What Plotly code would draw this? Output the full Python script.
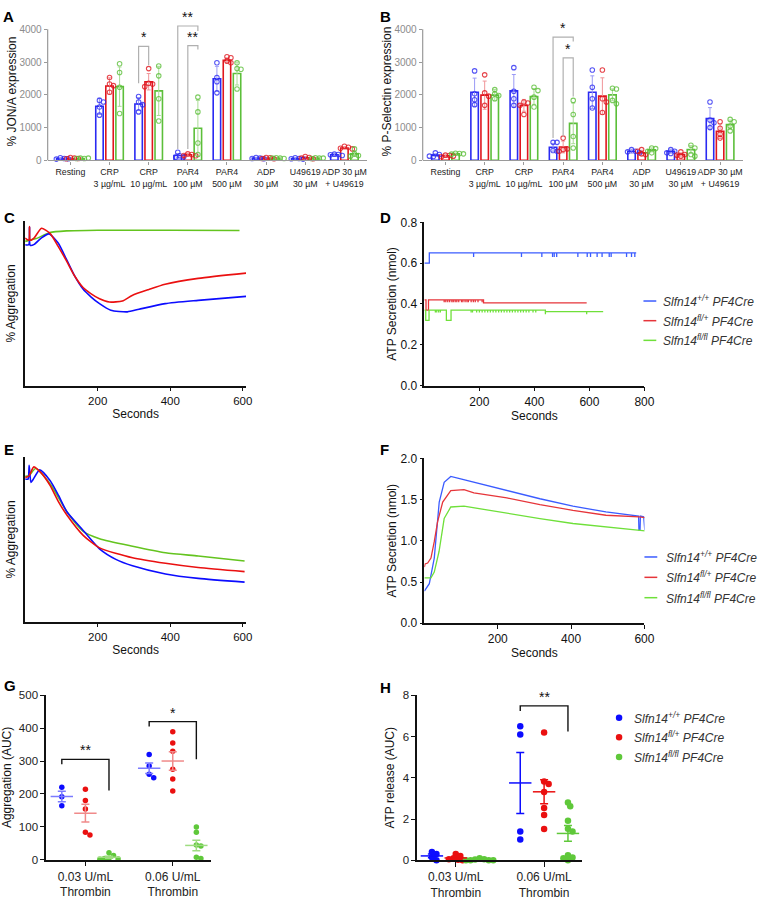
import plotly.graph_objects as go

W, H = 763, 900
FONT = "Liberation Sans, Arial, Helvetica, sans-serif"

# ============================ DATA ============================
genotype_html = ["<i>Slfn14<sup>+/+</sup> PF4Cre</i>",
                 "<i>Slfn14<sup>fl/+</sup> PF4Cre</i>",
                 "<i>Slfn14<sup>fl/fl</sup> PF4Cre</i>"]

agonists = ["Resting", "CRP<br>3 µg/mL", "CRP<br>10 µg/mL", "PAR4<br>100 µM",
            "PAR4<br>500 µM", "ADP<br>30 µM", "U49619<br>30 µM", "ADP 30 µM<br>+ U49619"]

# Panel A: % JON/A expression (mean, SD, individual points)
jona_mean_wt = [60, 1650, 1720, 150, 2490, 70, 60, 170]
jona_mean_het = [60, 2270, 2400, 170, 3050, 70, 80, 380]
jona_mean_ko = [60, 2250, 2120, 980, 2650, 70, 70, 200]
jona_sd_wt = [20, 250, 200, 60, 380, 25, 30, 40]
jona_sd_het = [20, 250, 250, 40, 80, 25, 40, 40]
jona_sd_ko = [15, 600, 750, 850, 350, 15, 15, 80]
jona_pts_wt = [[80, 60, 40, 50], [1830, 1780, 1630, 1380], [1950, 1780, 1700, 1480], [250, 140, 100, 100],
               [2980, 2530, 2400, 2060], [90, 70, 60, 50], [80, 60, 50, 40], [190, 180, 170, 150]]
jona_pts_het = [[90, 70, 50, 60], [2530, 2330, 2280, 2080], [2800, 2350, 2330, 2250], [200, 180, 150, 140],
                [3160, 3130, 3030, 2980], [90, 80, 60, 50], [120, 90, 70, 50], [430, 400, 370, 350]]
jona_pts_ko = [[70, 60, 60, 70], [2950, 2680, 2230, 1430], [2880, 2580, 1880, 1200], [1930, 1480, 530, 180],
               [2980, 2800, 2780, 2180], [80, 70, 70, 60], [80, 70, 60, 70], [350, 200, 150, 130]]
# significance: (category, from genotype, to genotype, top, left leg end, right leg end, label)
jona_sig = [(2, 0, 1, 3480, 2350, 2900, "*"), (3, 0, 2, 4100, 350, 3950, "**"), (3, 1, 2, 3500, 350, 3380, "**")]

# Panel B: % P-Selectin expression
psel_mean_wt = [160, 2080, 2120, 400, 2080, 280, 280, 1280]
psel_mean_het = [140, 1990, 1680, 410, 1960, 230, 180, 890]
psel_mean_ko = [200, 1990, 1950, 1130, 2000, 320, 330, 1090]
psel_sd_wt = [40, 430, 500, 120, 500, 60, 60, 330]
psel_sd_het = [30, 430, 180, 180, 560, 80, 50, 220]
psel_sd_ko = [25, 170, 240, 620, 180, 60, 120, 140]
psel_pts_wt = [[230, 180, 120, 130], [2730, 2030, 1850, 1700], [2830, 2110, 1880, 1680], [550, 550, 300, 280],
               [2760, 2230, 1880, 1600], [330, 280, 260, 230], [330, 280, 210, 230], [1780, 1230, 1150, 1000]]
psel_pts_het = [[160, 150, 110, 130], [2610, 2060, 1960, 1680], [1780, 1750, 1680, 1400], [680, 330, 350, 280],
                [2760, 1880, 1780, 1460], [330, 200, 180, 280], [260, 180, 160, 130], [1180, 980, 800, 680]]
psel_pts_ko = [[220, 210, 190, 200], [2160, 2030, 1980, 1880], [2230, 2130, 1930, 1630], [1830, 1400, 730, 380],
               [2200, 2180, 1830, 1730], [380, 360, 280, 230], [460, 380, 180, 130], [1250, 1180, 1050, 900]]
psel_sig = [(3, 0, 2, 3760, 680, 3630, "*"), (3, 1, 2, 3130, 730, 1950, "*")]

# Panel C: aggregation traces (arbitrary %, seconds)
c_wt_t = [0, 10, 12, 14, 25, 45, 66, 91, 114, 136, 159, 182, 205, 236, 282, 314, 386, 477, 609]
c_wt_v = [85.8, 85.8, 96.4, 85.4, 86.0, 90.0, 92.4, 86.8, 76.8, 66.9, 58.9, 53.9, 49.9, 45.9, 44.9, 46.5, 49.9, 51.9, 54.3]
c_het_t = [0, 10, 12, 14, 25, 45, 68, 91, 114, 136, 159, 182, 205, 232, 268, 295, 341, 386, 477, 609]
c_het_v = [89.8, 88.5, 96.8, 88.5, 90.0, 95.8, 92.8, 84.8, 75.9, 66.9, 59.9, 55.9, 52.9, 50.9, 51.5, 54.9, 58.5, 61.7, 65.3, 68.5]
c_ko_t = [0, 30, 68, 114, 200, 400, 591]
c_ko_v = [87.8, 89.5, 93.2, 94.2, 94.6, 94.6, 94.4]

# Panel D: ATP secretion step traces (nmol) with small dropout ticks
d_wt_t = [0, 18, 770]
d_wt_v = [0.60, 0.65, 0.65]
d_wt_ticks = [179, 353, 427, 466, 472, 481, 558, 592, 604, 628, 646, 672, 679, 735, 753, 765]
d_het_t = [0, 6, 15, 215, 590]
d_het_v = [0.42, 0.37, 0.42, 0.405, 0.405]
d_het_ticks = [72, 78, 85, 92, 100, 105, 112, 118, 125, 135, 140, 148, 155, 160, 170, 178, 185, 195, 210]
d_ko_t = [0, 5, 17, 80, 97, 440, 650]
d_ko_v = [0.37, 0.32, 0.37, 0.32, 0.37, 0.362, 0.362]
d_ko_ticks = [40, 45, 52, 58, 170, 175, 190, 200, 210, 220, 230, 240, 250, 260, 270, 280, 290, 300,
              310, 320, 330, 340, 350, 360, 370, 380, 395, 405, 440, 590]

# Panel E: aggregation traces
e_wt_t = [0, 8, 11, 16, 22, 40, 69, 92, 115, 160, 205, 250, 296, 387, 477, 605]
e_wt_v = [86.8, 86.8, 95.2, 84.7, 86.5, 92.4, 85.8, 76.8, 66.9, 55.5, 44.3, 37.9, 34.0, 29.0, 26.3, 24.0]
e_het_t = [0, 10, 24, 47, 69, 92, 115, 160, 205, 296, 387, 477, 605]
e_het_v = [87.8, 88.5, 94.2, 89.8, 82.8, 72.9, 64.9, 52.5, 44.9, 38.9, 35.5, 32.9, 30.4]
e_ko_t = [0, 10, 29, 69, 115, 160, 205, 296, 387, 477, 605]
e_ko_v = [88.4, 88.8, 93.2, 83.8, 66.9, 55.0, 50.5, 45.9, 41.9, 39.9, 36.9]

# Panel F: ATP secretion traces
f_wt_t = [0, 13.5, 27, 40.5, 54, 72, 99, 225, 315, 405, 495, 584, 585, 588, 589, 598, 599, 601]
f_wt_v = [0.39, 0.48, 0.79, 1.47, 1.71, 1.78, 1.75, 1.61, 1.51, 1.42, 1.35, 1.30, 1.13, 1.13, 1.30, 1.29, 1.13, 1.13]
f_het_t = [0, 2, 9, 18, 27, 36, 50, 72, 108, 135, 225, 315, 405, 495, 586, 603]
f_het_v = [0.68, 0.72, 0.73, 0.79, 0.99, 1.23, 1.47, 1.61, 1.62, 1.58, 1.52, 1.44, 1.37, 1.31, 1.29, 1.28]
f_ko_t = [0, 18, 27, 40, 54, 72, 108, 135, 225, 315, 405, 495, 603]
f_ko_v = [0.55, 0.55, 0.62, 0.87, 1.27, 1.41, 1.42, 1.40, 1.33, 1.27, 1.21, 1.17, 1.12]

# Panel G / H
thrombin = ["0.03 U/mL<br>Thrombin", "0.06 U/mL<br>Thrombin"]
g_pts_wt = [[220, 191, 164], [320, 285, 260, 249]]
g_pts_het = [[214, 180, 154, 83, 75], [389, 355, 330, 275, 245, 209]]
g_pts_ko = [[21, 12, 4, 3, 2, 1], [99, 83, 44, 41, 7, 3]]
g_mean = [[192, 278], [141, 300], [7, 43]]
g_sem = [[16, 16], [27, 28], [3, 16]]
g_sig = [(0, 0, 2, 305, 290, 210, "**"), (1, 0, 2, 420, 405, 305, "*")]

h_pts_wt = [[0.4, 0.3, 0.15, 0.0], [6.5, 6.1, 1.4, 1.0]]
h_pts_het = [[0.3, 0.2, 0.1, 0.05, 0.02, 0.0], [6.2, 3.82, 3.7, 3.31, 2.54, 2.19, 1.51]]
h_pts_ko = [[0.1, 0.05, 0.03, 0.0, 0.0, 0.0, 0.0], [2.8, 2.62, 1.91, 1.53, 1.4, 0.24, 0.13, 0.1, 0.0]]
h_mean = [[0.21, 3.75], [0.11, 3.32], [0.03, 1.3]]
h_sem = [[0.09, 1.48], [0.05, 0.58], [0.02, 0.38]]
h_sig = [(1, 0, 2, 7.49, 7.24, 6.25, "**")]

# ============================ STYLE ============================
AB_COL = ["#2a2af2", "#e0161e", "#5cbf3a"]
AB_LIGHT = ["#9a9af5", "#f09598", "#a9dc96"]
CE_COL = ["#0c0cff", "#ea1010", "#64c41f"]
DF_COL = ["#3b5cff", "#e6353a", "#6fe03a"]
GH_COL = ["#0c0cff", "#ea1010", "#5fc83a"]
G_LIGHT = ["#7b7bff", "#f08a8a", "#9edc80"]
BAR_STEP = 0.257
GRP_STEP = 0.27


def dom_x(a, b):
    return [a / W, b / W]


def dom_y(top, bottom):
    return [1 - bottom / H, 1 - top / H]


def swarm(values, center, ppx, ppy, diam, step):
    placed, xs = [], []
    for v in values:
        yp = v * ppy
        k = 0
        while True:
            cand = 0.0 if k == 0 else ((k + 1) // 2) * step * (1 if k % 2 else -1)
            if all((cand - px) ** 2 + (yp - py) ** 2 >= diam ** 2 for px, py in placed):
                break
            k += 1
        placed.append((cand, yp))
        xs.append(center + cand / ppx)
    return xs


def step_value(ts, vs, s):
    val = vs[0]
    for t, v in zip(ts, vs):
        if t <= s:
            val = v
    return val


fig = go.Figure()
shapes, annotations = [], []

# ---------------- Panels A and B (bars) ----------------
ab_sets = [
    ("x", "y", [jona_mean_wt, jona_mean_het, jona_mean_ko], [jona_sd_wt, jona_sd_het, jona_sd_ko],
     [jona_pts_wt, jona_pts_het, jona_pts_ko], jona_sig),
    ("x2", "y2", [psel_mean_wt, psel_mean_het, psel_mean_ko], [psel_sd_wt, psel_sd_het, psel_sd_ko],
     [psel_pts_wt, psel_pts_het, psel_pts_ko], psel_sig),
]
for xa, ya, means, sds, pts, sig in ab_sets:
    for g in range(3):
        off = (g - 1) * BAR_STEP
        fig.add_trace(go.Bar(
            x=[i + off for i in range(len(agonists))], y=means[g], width=0.19,
            marker=dict(color="rgba(255,255,255,0)", line=dict(color=AB_COL[g], width=1.6)),
            error_y=dict(type="data", array=sds[g], color=AB_LIGHT[g], thickness=1, width=2),
            xaxis=xa, yaxis=ya, showlegend=False, hoverinfo="skip"))
    for g in range(3):
        off = (g - 1) * BAR_STEP
        xs, ys = [], []
        for i, vals in enumerate(pts[g]):
            xs += swarm(vals, i + off, 39.7, 140 / 4200, 4.0, 2.0)
            ys += vals
        fig.add_trace(go.Scatter(
            x=xs, y=ys, mode="markers", xaxis=xa, yaxis=ya, showlegend=False, cliponaxis=False,
            marker=dict(symbol="circle-open", size=4.5, color=AB_COL[g], opacity=0.8, line=dict(width=1.1))))
    for cat, g0, g1, top, l0, l1, lab in sig:
        x0 = cat + (g0 - 1) * BAR_STEP
        x1 = cat + (g1 - 1) * BAR_STEP
        shapes.append(dict(type="path", xref=xa, yref=ya,
                           path=f"M {x0},{l0} L {x0},{top} L {x1},{top} L {x1},{l1}",
                           line=dict(color="#b0b0b0", width=1.2)))
        annotations.append(dict(x=(x0 + x1) / 2, y=top, xref=xa, yref=ya, text=lab, showarrow=False,
                                yanchor="bottom", yshift=-1, font=dict(size=14, color="#111", family=FONT)))
    shapes.append(dict(type="line", xref=xa + " domain", yref=ya, x0=0, x1=0, y0=0, y1=4000,
                       line=dict(color="#9a9a9a", width=1.2)))

# ---------------- Panels C and E (aggregation) ----------------
for xa, ya, series in [("x3", "y3", [(c_wt_t, c_wt_v), (c_het_t, c_het_v), (c_ko_t, c_ko_v)]),
                       ("x5", "y5", [(e_wt_t, e_wt_v), (e_het_t, e_het_v), (e_ko_t, e_ko_v)])]:
    for g in [2, 0, 1]:
        t, v = series[g]
        fig.add_trace(go.Scatter(x=t, y=v, mode="lines", xaxis=xa, yaxis=ya, showlegend=False,
                                 line=dict(color=CE_COL[g], width=1.6, shape="spline", smoothing=0.6)))

# ---------------- Panel D (step ATP) ----------------
for g, (ts, vs, ticks, depth) in enumerate([(d_wt_t, d_wt_v, d_wt_ticks, 0.02),
                                            (d_het_t, d_het_v, d_het_ticks, 0.012),
                                            (d_ko_t, d_ko_v, d_ko_ticks, 0.012)]):
    fig.add_trace(go.Scatter(x=ts, y=vs, mode="lines", xaxis="x4", yaxis="y4", showlegend=False,
                             line=dict(color=DF_COL[g], width=1.3, shape="hv")))
    tx, ty = [], []
    for s in ticks:
        b = step_value(ts, vs, s)
        tx += [s, s, None]
        ty += [b, b - depth, None]
    fig.add_trace(go.Scatter(x=tx, y=ty, mode="lines", xaxis="x4", yaxis="y4", showlegend=False,
                             line=dict(color=DF_COL[g], width=1.3)))

# ---------------- Panel F (ATP traces) ----------------
for g, (t, v) in enumerate([(f_wt_t, f_wt_v), (f_het_t, f_het_v), (f_ko_t, f_ko_v)]):
    fig.add_trace(go.Scatter(x=t, y=v, mode="lines", xaxis="x6", yaxis="y6", showlegend=False,
                             line=dict(color=DF_COL[g], width=1.3)))

# ---------------- Panels G and H (scatter + mean/SEM) ----------------
gh_sets = [("x7", "y7", [g_pts_wt, g_pts_het, g_pts_ko], g_mean, g_sem, g_sig, 88.3, 167 / 500, 4.6, 5.5, G_LIGHT),
           ("x8", "y8", [h_pts_wt, h_pts_het, h_pts_ko], h_mean, h_sem, h_sig, 89.3, 167.7 / 8, 4.4, 6.5, GH_COL)]
for xa, ya, pts, mean, sem, sig, ppx, ppy, diam, msize, mcol in gh_sets:
    for g in range(3):
        xs, ys = [], []
        for c in range(2):
            xs += swarm(pts[g][c], c + (g - 1) * GRP_STEP, ppx, ppy, diam, 2.3)
            ys += pts[g][c]
        fig.add_trace(go.Scatter(x=xs, y=ys, mode="markers", xaxis=xa, yaxis=ya, showlegend=False,
                                 cliponaxis=False, marker=dict(size=msize, color=GH_COL[g])))
    for g in range(3):
        fig.add_trace(go.Scatter(
            x=[c + (g - 1) * GRP_STEP for c in range(2)], y=mean[g], mode="markers",
            xaxis=xa, yaxis=ya, showlegend=False, cliponaxis=False,
            marker=dict(symbol="line-ew", size=16, color=mcol[g], line=dict(color=mcol[g], width=1.5)),
            error_y=dict(type="data", array=sem[g], color=mcol[g], thickness=1.5, width=4)))
    for cat, g0, g1, top, l0, l1, lab in sig:
        x0 = cat + (g0 - 1) * GRP_STEP
        x1 = cat + (g1 - 1) * GRP_STEP
        shapes.append(dict(type="path", xref=xa, yref=ya,
                           path=f"M {x0},{l0} L {x0},{top} L {x1},{top} L {x1},{l1}",
                           line=dict(color="#111", width=1.4)))
        annotations.append(dict(x=(x0 + x1) / 2, y=top, xref=xa, yref=ya, text=lab, showarrow=False,
                                yanchor="bottom", yshift=-1, font=dict(size=14, color="#111", family=FONT)))

# ---------------- Legends (drawn manually, short line samples) ----------------
for x0, x1, tx, ys in [(652, 665, 670, [299, 319, 339]), (653, 666, 672.7, [559.3, 580, 600.7])]:
    for g in range(3):
        shapes.append(dict(type="line", xref="paper", yref="paper", x0=x0 / W, x1=x1 / W,
                           y0=1 - ys[g] / H, y1=1 - ys[g] / H, line=dict(color=DF_COL[g], width=1.5)))
        annotations.append(dict(x=tx / W, y=1 - ys[g] / H, xref="paper", yref="paper", text=genotype_html[g],
                                showarrow=False, xanchor="left", yanchor="middle",
                                font=dict(size=12, color="#333", family=FONT)))
for g, yc in enumerate([722.7, 742.7, 762.7]):
    r = 3.3
    shapes.append(dict(type="circle", xref="paper", yref="paper", x0=(627.3 - r) / W, x1=(627.3 + r) / W,
                       y0=1 - (yc + r) / H, y1=1 - (yc - r) / H, fillcolor=GH_COL[g], line=dict(width=0)))
    annotations.append(dict(x=640 / W, y=1 - yc / H, xref="paper", yref="paper", text=genotype_html[g],
                            showarrow=False, xanchor="left", yanchor="middle",
                            font=dict(size=12, color="#333", family=FONT)))

# ---------------- Panel letters ----------------
for lab, px, py in [("A", 1, -1), ("B", 383, -1), ("C", 2, 203), ("D", 383, 203),
                    ("E", 2, 439), ("F", 383, 439), ("G", 2, 679), ("H", 383, 681)]:
    annotations.append(dict(x=px / W, y=1 - py / H, xref="paper", yref="paper", text=f"<b>{lab}</b>",
                            showarrow=False, xanchor="left", yanchor="top",
                            font=dict(size=15, color="#000", family=FONT)))

# ---------------- Axes ----------------
BLACK = "#111"
base = dict(showgrid=False, zeroline=False)


def tfont(size, color=BLACK):
    return dict(size=size, color=color, family=FONT)


layout_axes = {}
for i, (xa, ya, x0, x1, ytitle) in enumerate([("xaxis", "yaxis", 48.3, 372, "% JON/A expression"),
                                                ("xaxis2", "yaxis2", 428.3, 752.7, "% P-Selectin expression")]):
    xr = "y" if i == 0 else "y2"
    xr2 = "x" if i == 0 else "x2"
    layout_axes[xa] = dict(base, domain=dom_x(x0, x1), range=[-0.58, 7.58], anchor=xr,
                           tickvals=list(range(8)), ticktext=agonists, tickfont=tfont(8.8, "#222"),
                           tickangle=0, showline=True, linecolor="#9a9a9a", linewidth=1.2,
                           ticks="outside", ticklen=3, tickcolor="#9a9a9a")
    layout_axes[ya] = dict(base, domain=dom_y(16, 156), range=[0, 4200], anchor=xr2,
                           tickvals=[0, 1000, 2000, 3000, 4000], tickfont=tfont(10, "#8c8c8c"),
                           showline=False, ticks="outside", ticklen=3, tickcolor="#9a9a9a",
                           title=dict(text=ytitle, font=tfont(12), standoff=0))

for n, (y0, y1) in [(3, (218, 385)), (5, (458, 625))]:
    layout_axes[f"xaxis{n}"] = dict(base, domain=dom_x(25.5, 249.3), range=[0, 609], anchor=f"y{n}",
                                    tickvals=[200, 400, 600], tickfont=tfont(11.5),
                                    showline=True, linecolor=BLACK, linewidth=1.5,
                                    ticks="outside", ticklen=4, tickcolor=BLACK,
                                    title=dict(text="Seconds", font=tfont(12), standoff=3))
    layout_axes[f"yaxis{n}"] = dict(base, domain=dom_y(y0, y1), range=[0, 100], anchor=f"x{n}",
                                    showticklabels=False, ticks="", showline=True, linecolor=BLACK,
                                    linewidth=1.5, title=dict(text="% Aggregation", font=tfont(12), standoff=5))

for n, (y0, y1), xmax, xt, ymax, yt in [(4, (219, 385), 800, [200, 400, 600, 800], 0.8, [0, 0.2, 0.4, 0.6, 0.8]),
                                          (6, (459, 626.7), 600, [200, 400, 600], 2.0, [0, 0.5, 1.0, 1.5, 2.0])]:
    layout_axes[f"xaxis{n}"] = dict(base, domain=dom_x(430, 653), range=[0, xmax], anchor=f"y{n}",
                                    tickvals=xt, tickfont=tfont(12), showline=True, linecolor=BLACK,
                                    linewidth=1.5, ticks="outside", ticklen=4, tickcolor=BLACK,
                                    title=dict(text="Seconds", font=tfont(12), standoff=3))
    layout_axes[f"yaxis{n}"] = dict(base, domain=dom_y(y0, y1), range=[0, ymax], anchor=f"x{n}",
                                    tickvals=yt, tickformat=".1f", tickfont=tfont(12), showline=True,
                                    linecolor=BLACK, linewidth=1.5, ticks="outside", ticklen=3, tickcolor=BLACK,
                                    title=dict(text="ATP Secretion (nmol)", font=tfont(12), standoff=1))

for n, x0, x1, xr, y1, ymax, yt, ytitle in [(7, 46.7, 214, [-0.45, 1.44], 867, 500, [0, 100, 200, 300, 400, 500],
                                             "Aggregation (AUC)"),
                                            (8, 422.7, 590, [-0.437, 1.432], 867.7, 8, [0, 2, 4, 6, 8],
                                             "ATP release (AUC)")]:
    layout_axes[f"xaxis{n}"] = dict(base, domain=dom_x(x0, x1), range=xr, anchor=f"y{n}",
                                    tickvals=[0, 1], ticktext=thrombin, tickfont=tfont(12, "#222"),
                                    showline=True, linecolor=BLACK, linewidth=1.5,
                                    ticks="outside", ticklen=5, tickcolor=BLACK)
    layout_axes[f"yaxis{n}"] = dict(base, domain=dom_y(700, y1), range=[0, ymax], anchor=f"x{n}",
                                    tickvals=yt, tickfont=tfont(11.5, "#222"), showline=True,
                                    linecolor=BLACK, linewidth=1.5, ticks="outside", ticklen=4, tickcolor=BLACK,
                                    title=dict(text=ytitle, font=tfont(12), standoff=5))

fig.update_layout(width=W, height=H, margin=dict(l=0, r=0, t=0, b=0), autosize=False,
                  paper_bgcolor="white", plot_bgcolor="white", barmode="overlay", showlegend=False,
                  font=dict(family=FONT, color=BLACK), shapes=shapes, annotations=annotations, **layout_axes)

fig.write_html("out.html")
